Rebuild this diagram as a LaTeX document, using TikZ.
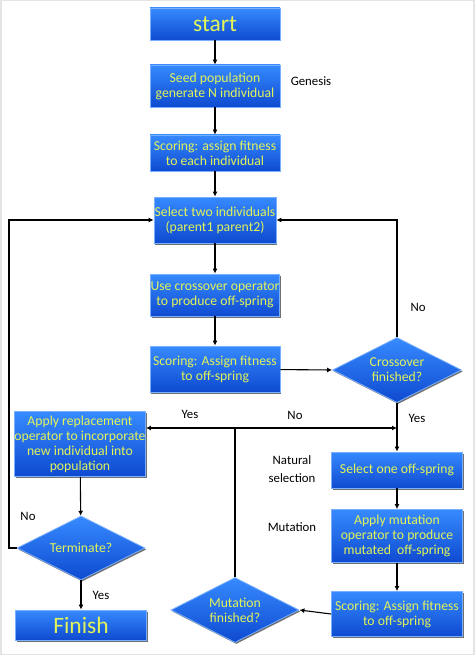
\documentclass[tikz,border=0pt]{standalone}
\usepackage{fontspec}
\setmainfont{Carlito}
\usetikzlibrary{shapes.geometric,arrows.meta,shadows}
\definecolor{bluetop}{RGB}{55,138,255}
\definecolor{bluebot}{RGB}{14,74,208}
\definecolor{blueedge}{RGB}{120,175,255}
\definecolor{txtyel}{RGB}{226,244,88}
\definecolor{framegray}{RGB}{228,228,228}
\tikzset{
  box/.style={rectangle, inner sep=0pt, top color=bluetop, bottom color=bluebot,
    draw=blueedge, line width=0.8pt, text=txtyel, align=center,
    font=\fontsize{13.7}{15}\selectfont,
    drop shadow={shadow xshift=1.2pt, shadow yshift=-1.5pt, fill=black!70, opacity=0.8}},
  dia/.style={diamond, aspect=2, inner sep=0pt, top color=bluetop, bottom color=bluebot,
    draw=blueedge, line width=0.8pt, text=txtyel, align=center,
    font=\fontsize{13.7}{15}\selectfont,
    drop shadow={shadow xshift=1.2pt, shadow yshift=-1.5pt, fill=black!70, opacity=0.8}},
  lbl/.style={text=black, align=center, font=\fontsize{12.8}{18}\selectfont},
  arr/.style={line width=1.1pt, -{Latex[length=5pt,width=5pt]}},
  ln/.style={line width=1.1pt}
}
\begin{document}
\begin{tikzpicture}[x=1pt,y=-1pt]
\useasboundingbox (0,0) rectangle (474,655);
\draw[framegray, line width=3pt] (0,0) rectangle (474,655);
% main column
\node[box, minimum width=130pt, minimum height=32pt, font=\fontsize{23.5}{26}\selectfont] (start) at (215,24) {start};
\node[box, minimum width=130pt, minimum height=42pt] (seed) at (215,86) {Seed population\\generate N individual};
\node[box, minimum width=130pt, minimum height=36pt] (score1) at (215,153) {Scoring: assign fitness\\to each individual};
\node[box, minimum width=122pt, minimum height=46pt] (select) at (215,220) {Select two individuals\\(parent1 parent2)};
\node[box, minimum width=129pt, minimum height=42pt] (cross) at (215,295) {Use crossover operator\\to produce off-spring};
\node[box, minimum width=130pt, minimum height=46pt] (score2) at (215,369) {Scoring: Assign fitness\\to off-spring};
\node[dia, minimum width=129pt, minimum height=65pt] (cdiam) at (397,370) {Crossover\\finished?};
% right column
\node[box, minimum width=131pt, minimum height=36pt] (sel1) at (397,470) {Select one off-spring};
\node[box, minimum width=131pt, minimum height=53pt] (mut) at (397,536) {Apply mutation\\operator to produce\\mutated\ \ off-spring};
\node[box, minimum width=131pt, minimum height=45pt] (score3) at (397,614) {Scoring: Assign fitness\\to off-spring};
\node[dia, minimum width=128pt, minimum height=65pt] (mdiam) at (235,610) {Mutation\\finished?};
% left column
\node[box, minimum width=124pt, minimum height=65pt] (replace) at (80,444) {Apply replacement\\operator to incorporate\\new individual into\\population};
\node[dia, minimum width=128pt, minimum height=64pt] (term) at (81,548) {Terminate?};
\node[box, minimum width=131pt, minimum height=30pt, font=\fontsize{23.5}{26}\selectfont] (finish) at (81,625) {Finish};
% labels
\node[lbl] (genesis) at (311,81) {Genesis};
\node[lbl, font=\fontsize{12.8}{17.5}\selectfont] (natsel) at (292,469) {Natural\\selection};
\node[lbl] (mutlbl) at (292,527) {Mutation};
\node[lbl] (nocross) at (418,307) {No};
\node[lbl] (yescross) at (417,418) {Yes};
\node[lbl] (yesmut) at (190,414) {Yes};
\node[lbl] (nomut) at (295,415) {No};
\node[lbl] (noterm) at (28,516) {No};
\node[lbl] (yesterm) at (101,595) {Yes};
% connectors
\draw[arr] (start) -- (seed);
\draw[arr] (seed) -- (score1);
\draw[arr] (score1) -- (select);
\draw[arr] (select) -- (cross);
\draw[arr] (cross) -- (score2);
\draw[arr] (score2) -- (cdiam.west);
\draw[arr] (cdiam.north) |- (select.east);
\draw[arr] (cdiam.south) -- (sel1.north);
\draw[arr] (sel1) -- (mut);
\draw[arr] (mut) -- (score3);
\draw[arr] (score3.west) -- (mdiam.east);
\coordinate (junc) at (235,428);
\draw[ln] (mdiam.north) -- (junc);
\draw[arr] (junc) -- (junc -| replace.east);
\draw[arr] (junc) -- (junc -| cdiam.south);
\draw[arr] (replace) -- (term);
\coordinate (lcorner) at (9,548);
\draw[arr] (term.west) -- (lcorner) |- (select.west);
\draw[arr] (term) -- (finish);
\end{tikzpicture}
\end{document}
